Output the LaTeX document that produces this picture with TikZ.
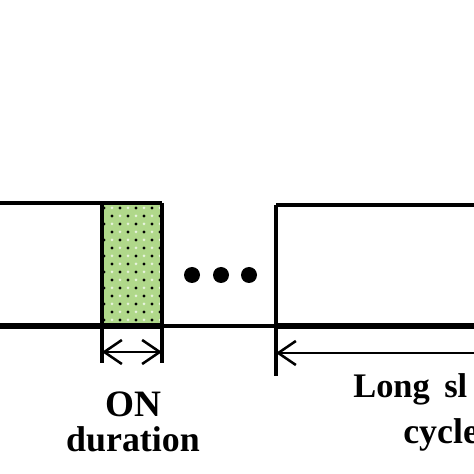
\documentclass[tikz,border=0pt]{standalone}
\usepackage{fontspec}
\setmainfont{Liberation Serif}
\usetikzlibrary{arrows.meta}
\definecolor{ongreen}{RGB}{176,216,138}

\begin{document}
\begin{tikzpicture}[x=0.025cm,y=0.025cm,
  every node/.style={font=\fontsize{25.5}{30}\selectfont\bfseries,inner sep=0pt},
  boxline/.style={line width=2.9pt},
  thinline/.style={line width=2.5pt},
  timeline/.style={line width=4.3pt},
  dimarrow/.style={line width=1.4pt},
  >={Straight Barb[length=0.44cm,width=0.6cm,line width=1.8pt]}]
\useasboundingbox (0,0) rectangle (474,474);
% green ON block with dots
\fill[ongreen] (102,148) rectangle (162,271);
\begin{scope}
\clip (102,148) rectangle (162,271);
\foreach \i in {0,...,15}
  \foreach \j in {0,...,4} {
    \fill ({104+mod(\i,2)*8+16*\j},{266-8*\i}) circle (1.6);
    \fill[white!70!ongreen] ({112+mod(\i,2)*8+16*\j},{266-8*\i}) circle (1.5);
  }
\end{scope}
% boxes
\draw[boxline] (-10,271) -- (162,271);
\draw[boxline] (484,269) -- (276,269);
\draw[thinline] (102,271) -- (102,111);
\draw[thinline] (162,271) -- (162,111);
\draw[thinline] (276,269) -- (276,98);
% time line
\draw[thinline] (0,148) -- (474,148);
\draw[timeline] (0,148) -- (162,148);
\draw[timeline] (276,148) -- (484,148);
% dots
\foreach \x in {192,221,249}
  \fill (\x,199) circle (8);
% durations
\coordinate (onL) at (102,122);
\coordinate (onR) at (162,122);
\coordinate (cycR) at (490,121);
\coordinate (cycL) at (276,121);
\draw[dimarrow,<->] (onL) -- (onR);
\draw[dimarrow,->] (cycR) -- (cycL);
% labels
\node[anchor=base,font=\fontsize{26.5}{30}\selectfont\bfseries] (on) at (133,57) {ON};
\node[anchor=base] (ondur) at (133,22) {duration};
\node[anchor=base west,font=\fontsize{24.5}{30}\selectfont\bfseries] (longsl) at (353,76) {Long\hskip0.42em sl};
\node[anchor=base west] (cycle) at (403,30) {cycle};
\end{tikzpicture}
\end{document}
